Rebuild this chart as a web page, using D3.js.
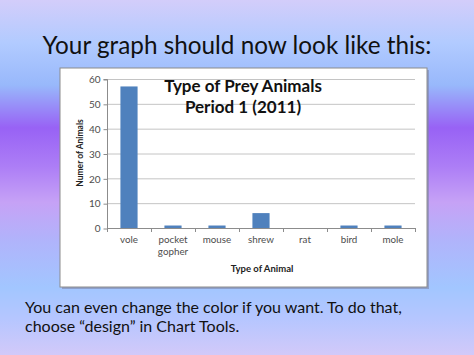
<!DOCTYPE html>
<html>
<head>
<meta charset="utf-8">
<script src="https://cdn.jsdelivr.net/npm/d3@7"></script>
<style>
  html, body { margin: 0; padding: 0; }
  svg { display: block; }
</style>
</head>
<body>
<svg width="474" height="355"></svg>
<script>
// data
const animals = ["vole", "pocket gopher", "mouse", "shrew", "rat", "bird", "mole"];
const counts = [57, 1, 1, 6, 0, 1, 1];
const yTicks = [0, 10, 20, 30, 40, 50, 60];
const titleLines = ["Type of Prey Animals", "Period 1 (2011)"];
const heading = "Your graph should now look like this:";
const footer = ["You can even change the color if you want. To do that,",
                "choose \u201cdesign\u201d in Chart Tools."];

const svg = d3.select("svg");
const W = 474, H = 355;
const font = "Lato, 'Open Sans', sans-serif";

// slide background
const defs = svg.append("defs");
const grad = defs.append("linearGradient")
  .attr("id", "bg").attr("x1", 0).attr("y1", 0).attr("x2", 0).attr("y2", 1);
[[0, "#d3cdfa"], [0.12, "#b2cbff"], [0.24, "#98b8fb"], [0.36, "#9862f5"],
 [0.47, "#ad7ef6"], [0.57, "#c6a2f6"], [0.68, "#b0b4fb"], [0.81, "#a2c6ff"],
 [0.9, "#b6c6ff"], [1, "#d2c9f9"]].forEach(s => {
  grad.append("stop").attr("offset", s[0]).attr("stop-color", s[1]);
});
svg.append("rect").attr("width", W).attr("height", H).attr("fill", "url(#bg)");

svg.append("text")
  .attr("x", 237).attr("y", 54)
  .attr("text-anchor", "middle")
  .style("font-family", font).style("font-size", "24.3px")
  .style("fill", "#111")
  .text(heading);

// chart box
const box = { x: 60, y: 68, w: 367, h: 219 };
svg.append("rect")
  .attr("x", box.x + 2).attr("y", box.y + 2)
  .attr("width", box.w).attr("height", box.h)
  .attr("fill", "#7f86a8").attr("opacity", 0.6);
svg.append("rect")
  .attr("x", box.x).attr("y", box.y)
  .attr("width", box.w).attr("height", box.h)
  .attr("fill", "#fff").attr("stroke", "#8c8c8c").attr("stroke-width", 1);

const area = { left: 107, right: 415, top: 79, bottom: 228 };

const scaleX = d3.scaleBand()
  .domain(animals)
  .range([area.left, area.right]);

const scaleY = d3.scaleLinear()
  .domain([0, 60])
  .range([area.bottom, area.top]);

// gridlines
svg.append("g")
  .selectAll("line")
  .data(yTicks.filter(d => d > 0))
  .enter()
  .append("line")
  .attr("x1", area.left).attr("x2", area.right)
  .attr("y1", d => scaleY(d) + 0.5).attr("y2", d => scaleY(d) + 0.5)
  .attr("stroke", "#c4c4c4").attr("stroke-width", 1);

// y axis
const axisY = d3.axisLeft(scaleY).tickValues(yTicks).tickSize(4).tickPadding(3);
const gY = svg.append("g")
  .attr("transform", `translate(${area.left + 0.5}, 0.5)`)
  .call(axisY);
gY.select(".domain").attr("stroke", "#8c8c8c").attr("d", `M-4,${area.top}H0V${area.bottom}`);
gY.selectAll(".tick line").attr("stroke", "#8c8c8c");
gY.selectAll("text")
  .style("font-family", font).style("font-size", "10px")
  .style("fill", "#4d4d4d");

// bars
const barW = scaleX.bandwidth() * 0.39;
svg.selectAll(".bar")
  .data(animals)
  .enter()
  .append("rect")
  .attr("class", "bar")
  .attr("x", (d) => scaleX(d) + (scaleX.bandwidth() - barW) / 2)
  .attr("y", (d, i) => scaleY(counts[i]))
  .attr("width", barW)
  .attr("height", (d, i) => area.bottom - scaleY(counts[i]))
  .style("fill", "#4f81bd");

// x axis: line and ticks at category boundaries
const gX = svg.append("g");
gX.append("line")
  .attr("x1", area.left).attr("x2", area.right)
  .attr("y1", area.bottom + 0.5).attr("y2", area.bottom + 0.5)
  .attr("stroke", "#8c8c8c");
const bounds = animals.map(d => scaleX(d)).concat([area.right]);
gX.selectAll(".xt")
  .data(bounds)
  .enter()
  .append("line")
  .attr("x1", d => Math.round(d) + 0.5).attr("x2", d => Math.round(d) + 0.5)
  .attr("y1", area.bottom).attr("y2", area.bottom + 4)
  .attr("stroke", "#8c8c8c");

const labels = gX.selectAll(".xl")
  .data(animals)
  .enter()
  .append("text")
  .attr("text-anchor", "middle")
  .attr("x", d => scaleX(d) + scaleX.bandwidth() / 2)
  .attr("y", 243)
  .style("font-family", font).style("font-size", "9.8px")
  .style("fill", "#4d4d4d");
labels.each(function(d) {
  const words = d.split(" ");
  const t = d3.select(this);
  words.forEach((w, i) => {
    t.append("tspan")
      .attr("x", scaleX(d) + scaleX.bandwidth() / 2)
      .attr("dy", i === 0 ? 0 : 12)
      .text(w);
  });
});

// axis titles
svg.append("text")
  .attr("x", 262).attr("y", 272)
  .attr("text-anchor", "middle")
  .style("font-family", font).style("font-size", "9.5px")
  .style("font-weight", "bold").style("fill", "#222")
  .text("Type of Animal");

svg.append("text")
  .attr("transform", "translate(83, 153) rotate(-90)")
  .attr("text-anchor", "middle")
  .style("font-family", font).style("font-size", "8.5px")
  .style("font-weight", "bold").style("fill", "#222")
  .text("Numer of Animals");

// chart title
svg.append("g")
  .selectAll("text")
  .data(titleLines)
  .enter()
  .append("text")
  .attr("x", 243)
  .attr("y", (d, i) => 92 + i * 21)
  .attr("text-anchor", "middle")
  .style("font-family", font).style("font-size", "17px")
  .style("font-weight", "bold").style("fill", "#111")
  .text(d => d);

// footer text
svg.append("g")
  .selectAll("text")
  .data(footer)
  .enter()
  .append("text")
  .attr("x", 25)
  .attr("y", (d, i) => 313 + i * 19)
  .style("font-family", font).style("font-size", "16px")
  .style("fill", "#111")
  .text(d => d);
</script>
</body>
</html>
